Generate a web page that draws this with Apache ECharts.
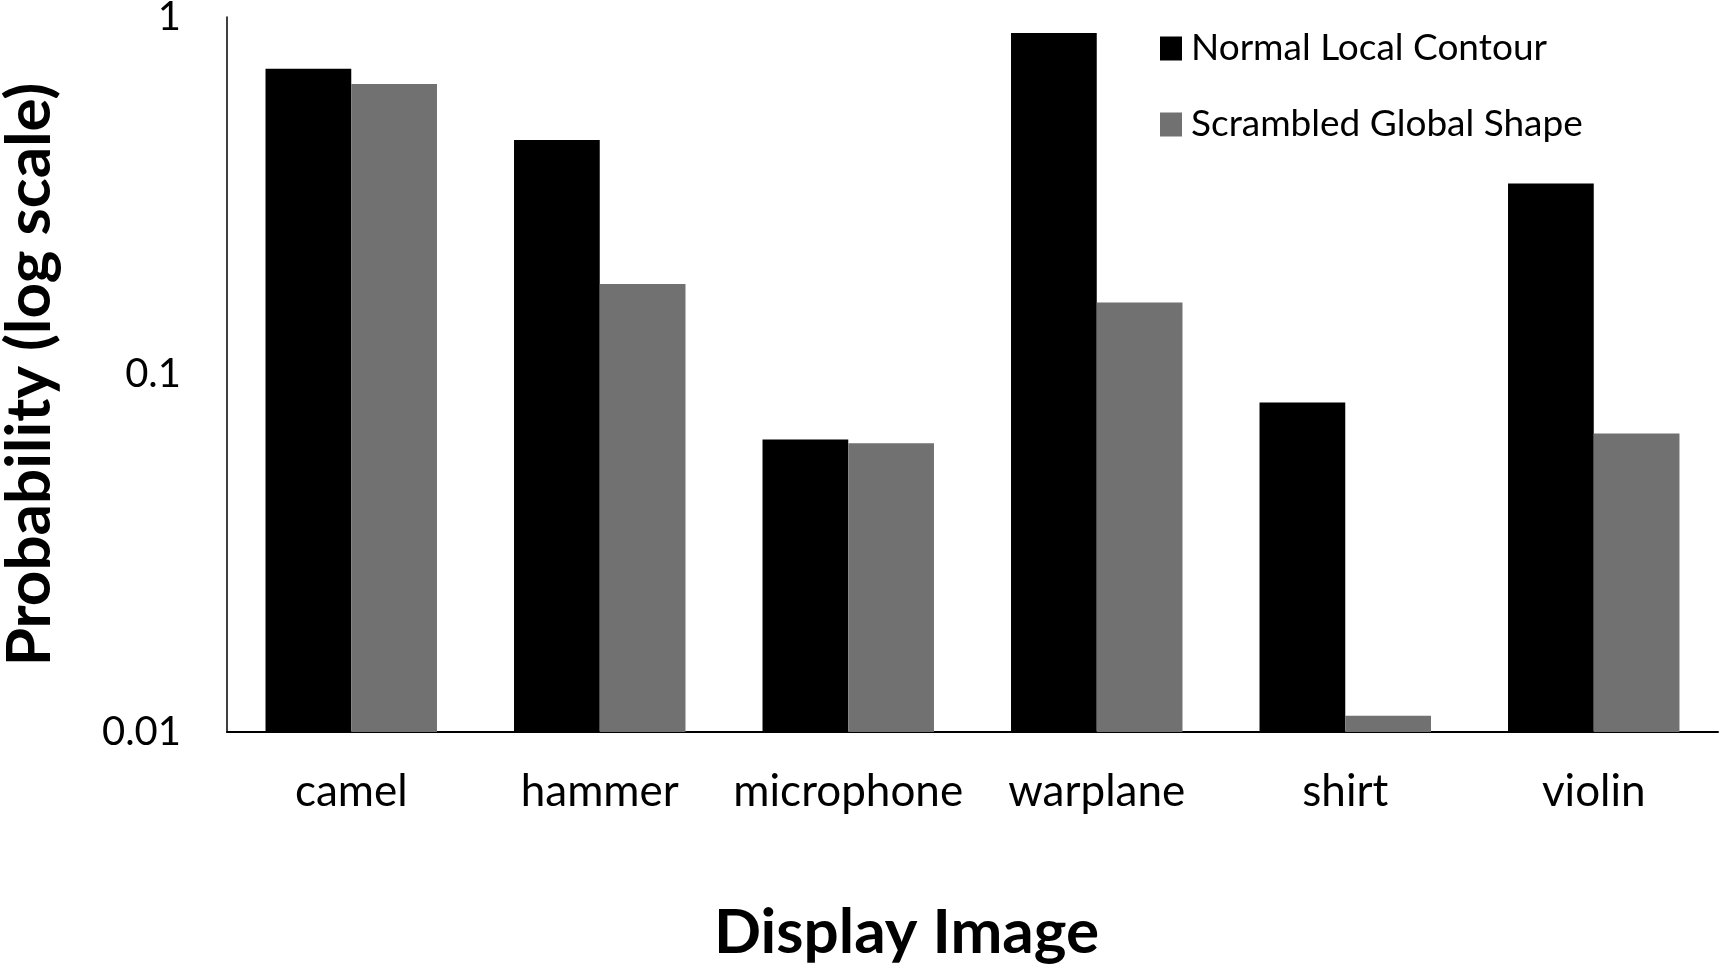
<!DOCTYPE html>
<html>
<head>
<meta charset="utf-8">
<script src="https://cdn.jsdelivr.net/npm/echarts@6/dist/echarts.min.js"></script>
<style>html,body{margin:0;padding:0;background:#fff}#c{width:1720px;height:968px}</style>
</head>
<body>
<div id="c"></div>
<script>
const categories = ['camel', 'hammer', 'microphone', 'warplane', 'shirt', 'violin'];
const normalLocalContour = [0.716, 0.453, 0.0658, 0.902, 0.0835, 0.342];
const scrambledGlobalShape = [0.650, 0.179, 0.0642, 0.159, 0.0111, 0.0684];
const yTicks = [0.01, 0.1, 1];

// Bars on an ECharts log axis grow from value 1, so the chart uses a value axis
// measured in decades above the lowest tick (0.01), labelled back as probabilities.
const yBase = yTicks[0];
const toDecades = v => Math.log10(v / yBase);
const fromDecades = d => yBase * Math.pow(10, d);
const fmt = v => { const p = fromDecades(v); return String(Number(p.toPrecision(3))); };

const FONT = 'Lato';
const chart = echarts.init(document.getElementById('c'), null, {renderer: 'canvas'});
chart.setOption({
  animation: false,
  backgroundColor: '#fff',
  textStyle: {fontFamily: FONT},
  grid: {left: 227, right: 2, top: 17, bottom: 236, containLabel: false, outerBoundsMode: 'none'},
  legend: {
    orient: 'vertical',
    left: 1155, top: 25,
    itemWidth: 22, itemHeight: 24, itemGap: 39,
    icon: 'rect',
    textStyle: {fontFamily: FONT, fontSize: 37, color: '#000', padding: [0, 0, 0, 4]},
    data: ['Normal Local Contour', 'Scrambled Global Shape']
  },
  xAxis: {
    type: 'category',
    data: categories,
    axisLine: {lineStyle: {color: '#000', width: 2}},
    axisTick: {show: false},
    axisLabel: {fontFamily: FONT, fontSize: 44, color: '#000', margin: 38, interval: 0},
    name: 'Display Image',
    nameLocation: 'middle',
    nameGap: 170,
    nameTextStyle: {fontFamily: FONT, fontSize: 62, fontWeight: 'bold', color: '#000', padding: [0, 132, 0, 0]}
  },
  yAxis: {
    type: 'value',
    min: toDecades(yTicks[0]),
    max: toDecades(yTicks[yTicks.length - 1]),
    interval: 1,
    axisLine: {show: true, lineStyle: {color: '#000', width: 1.5}},
    axisTick: {show: false},
    splitLine: {show: false},
    axisLabel: {fontFamily: FONT, fontSize: 40, color: '#000', margin: 46, formatter: fmt},
    name: 'Probability (log scale)',
    nameLocation: 'middle',
    nameGap: 166,
    nameTextStyle: {fontFamily: FONT, fontSize: 62, fontWeight: 'bold', color: '#000'}
  },
  series: [
    {name: 'Normal Local Contour', type: 'bar', data: normalLocalContour.map(toDecades),
      itemStyle: {color: '#000000'}, barGap: '0%', barCategoryGap: '31%'},
    {name: 'Scrambled Global Shape', type: 'bar', data: scrambledGlobalShape.map(toDecades),
      itemStyle: {color: '#717171'}, barGap: '0%', barCategoryGap: '31%'}
  ]
});
</script>
</body>
</html>
